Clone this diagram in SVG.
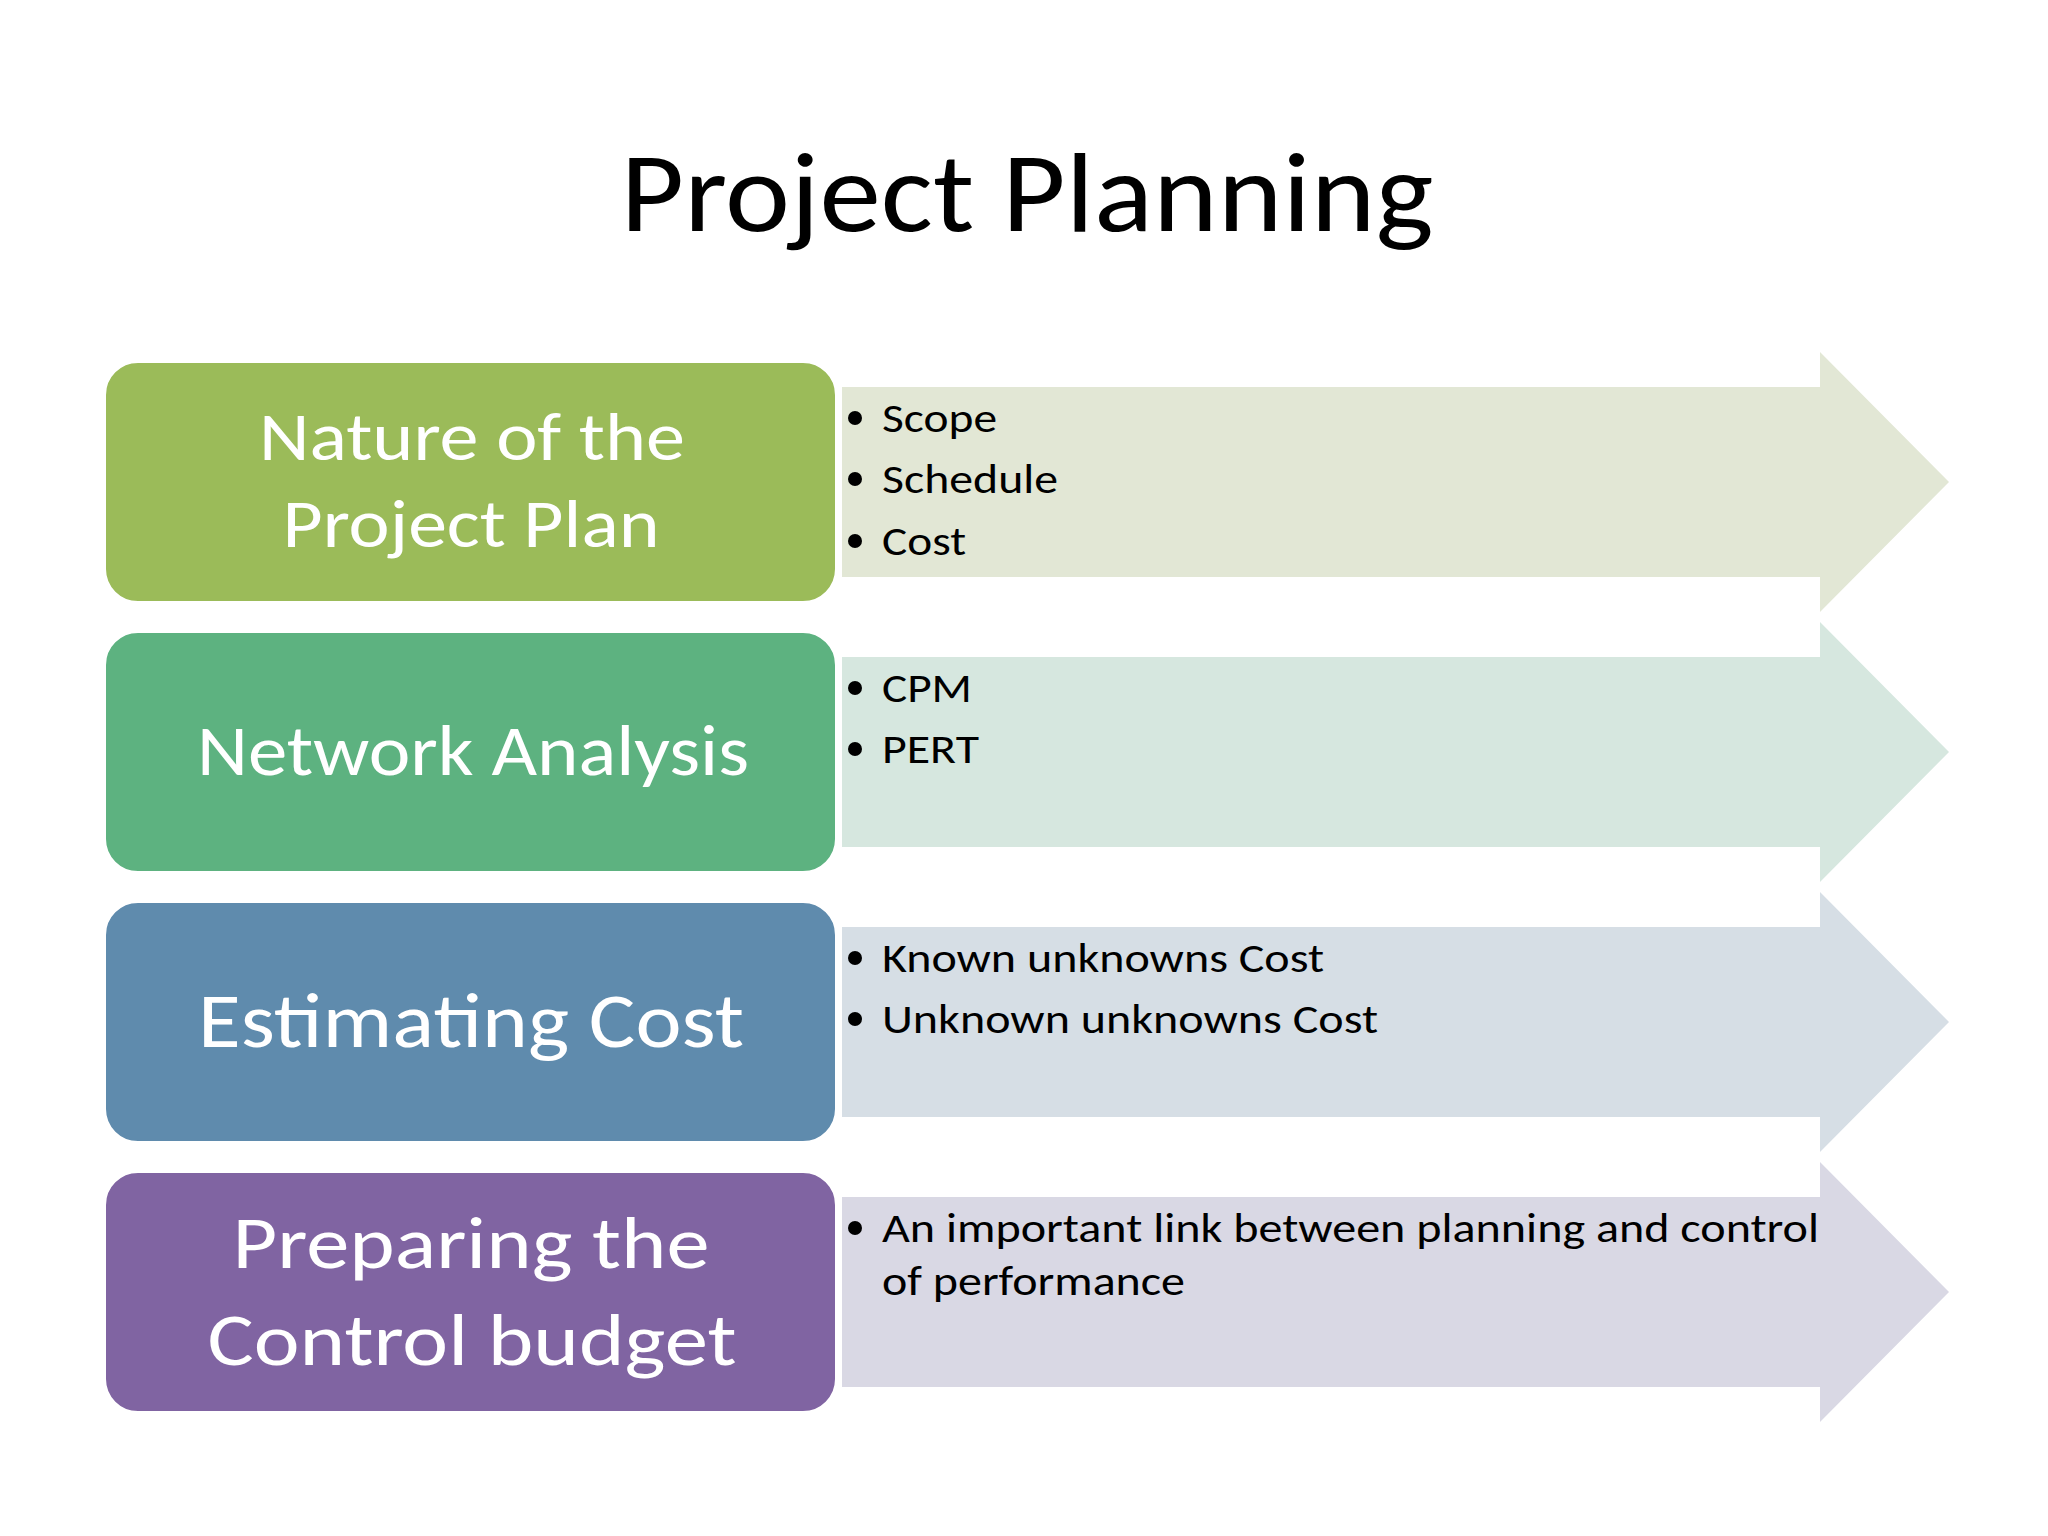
<svg xmlns="http://www.w3.org/2000/svg" xmlns:xlink="http://www.w3.org/1999/xlink" width="2048" height="1536" viewBox="0 0 2048 1536">
<defs>
<style>
.t{font-family:Carlito,Lato,"Open Sans",sans-serif;}
.title{font-size:113px;fill:#000;}
.lbl{fill:#fff;text-anchor:middle;}
.bul{font-size:42px;fill:#000;}
.box{stroke:#fff;stroke-width:2;}
</style>
<path id="arrow" d="M842,387 H1820 V352 L1949,482 L1820,612 V577 H842 Z"/>
<circle id="dot" r="7"/>
</defs>
<rect width="2048" height="1536" fill="#fff"/>
<text class="t title" x="1027" y="231" text-anchor="middle" textLength="813" lengthAdjust="spacingAndGlyphs">Project Planning</text>

<g id="row1">
<use xlink:href="#arrow" fill="#e2e7d5"/>
<rect class="box" x="105" y="362" width="731" height="240" rx="33" fill="#9bbb59"/>
<text class="t lbl" font-size="68" x="472" y="460" textLength="426" lengthAdjust="spacingAndGlyphs">Nature of the</text>
<text class="t lbl" font-size="68" x="471" y="547" textLength="377" lengthAdjust="spacingAndGlyphs">Project Plan</text>
<use xlink:href="#dot" x="855" y="418"/>
<use xlink:href="#dot" x="855" y="479"/>
<use xlink:href="#dot" x="855" y="541"/>
<text class="t bul" x="882" y="432" textLength="115" lengthAdjust="spacingAndGlyphs">Scope</text>
<text class="t bul" x="882" y="493" textLength="176" lengthAdjust="spacingAndGlyphs">Schedule</text>
<text class="t bul" x="882" y="555" textLength="84" lengthAdjust="spacingAndGlyphs">Cost</text>
</g>

<g id="row2">
<use xlink:href="#arrow" y="270" fill="#d6e7df"/>
<rect class="box" x="105" y="632" width="731" height="240" rx="33" fill="#5db280"/>
<text class="t lbl" font-size="71" x="473" y="775" textLength="552" lengthAdjust="spacingAndGlyphs">Network Analysis</text>
<use xlink:href="#dot" x="855" y="688"/>
<use xlink:href="#dot" x="855" y="749"/>
<text class="t bul" x="882" y="702" textLength="90" lengthAdjust="spacingAndGlyphs">CPM</text>
<text class="t bul" x="882" y="763" textLength="97" lengthAdjust="spacingAndGlyphs">PERT</text>
</g>

<g id="row3">
<use xlink:href="#arrow" y="540" fill="#d6dee5"/>
<rect class="box" x="105" y="902" width="731" height="240" rx="33" fill="#5f8bad"/>
<text class="t lbl" font-size="78" x="471" y="1047" textLength="546" lengthAdjust="spacingAndGlyphs">Estimating Cost</text>
<use xlink:href="#dot" x="855" y="958"/>
<use xlink:href="#dot" x="855" y="1019"/>
<text class="t bul" x="882" y="972" textLength="442" lengthAdjust="spacingAndGlyphs">Known unknowns Cost</text>
<text class="t bul" x="882" y="1033" textLength="496" lengthAdjust="spacingAndGlyphs">Unknown unknowns Cost</text>
</g>

<g id="row4">
<use xlink:href="#arrow" y="810" fill="#d9d8e4"/>
<rect class="box" x="105" y="1172" width="731" height="240" rx="33" fill="#8064a2"/>
<text class="t lbl" font-size="75" x="471" y="1268" textLength="477" lengthAdjust="spacingAndGlyphs">Preparing the</text>
<text class="t lbl" font-size="75" x="472" y="1365" textLength="529" lengthAdjust="spacingAndGlyphs">Control budget</text>
<use xlink:href="#dot" x="855" y="1228"/>
<text class="t bul" x="882" y="1242" textLength="937" lengthAdjust="spacingAndGlyphs">An important link between planning and control</text>
<text class="t bul" x="882" y="1295" textLength="303" lengthAdjust="spacingAndGlyphs">of performance</text>
</g>
</svg>
